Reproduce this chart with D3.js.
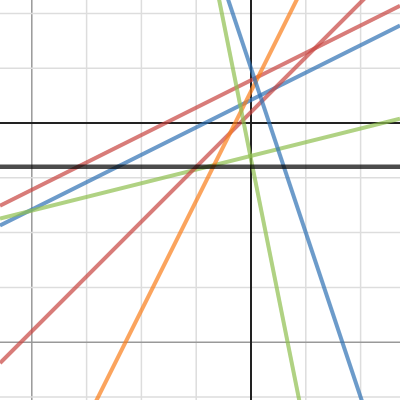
<!DOCTYPE html>
<meta charset="utf-8">
<style>
  body { margin: 0; background: #fff; }
  svg { display: block; }
</style>
<script src="https://d3js.org/d3.v7.min.js"></script>
<svg width="400" height="400"></svg>
<script>
// lines y = m*x + b
const names = ['red1', 'blue1', 'green1', 'red2', 'orange', 'blue2', 'green2'];
const slopes = [0.5, 0.5, 0.25, 1, 2, -3, -5];
const intercepts = [0.78, 0.42, -0.6, 0.2, 0.58, 1, -0.66];
const hLine = -0.8;

const xTicks = d3.range(-4, 3);
const yTicks = d3.range(-5, 3);

const colors = {
  red1: '#c74440', blue1: '#2d70b3', green1: '#8fbf4f',
  red2: '#c74440', orange: '#fa7e19', blue2: '#2d70b3', green2: '#8fbf4f'
};

const W = 400, H = 400;
const svg = d3.select('svg');

const x = d3.scaleLinear().domain([-251 / 54.8, 149 / 54.8]).range([0, W]);
const y = d3.scaleLinear().domain([123 / 54.8, -277 / 54.8]).range([0, H]);

const gridColor = v => v === 0 ? '#222' : (v % 4 === 0 ? '#999' : '#ddd');

const grid = svg.append('g');
grid.selectAll('.vx')
  .data(xTicks.filter(d => d !== 0))
  .enter().append('line')
  .attr('x1', d => x(d)).attr('x2', d => x(d))
  .attr('y1', 0).attr('y2', H)
  .attr('stroke', gridColor)
  .attr('stroke-width', 1.5);
grid.selectAll('.hy')
  .data(yTicks.filter(d => d !== 0))
  .enter().append('line')
  .attr('y1', d => y(d)).attr('y2', d => y(d))
  .attr('x1', 0).attr('x2', W)
  .attr('stroke', gridColor)
  .attr('stroke-width', 1.5);

// axes
svg.append('line')
  .attr('x1', x(0)).attr('x2', x(0)).attr('y1', 0).attr('y2', H)
  .attr('stroke', '#222').attr('stroke-width', 2);
svg.append('line')
  .attr('y1', y(0)).attr('y2', y(0)).attr('x1', 0).attr('x2', W)
  .attr('stroke', '#222').attr('stroke-width', 2);

const [x0, x1] = x.domain();
const lines = names.map((n, i) => ({ name: n, m: slopes[i], b: intercepts[i] }));

svg.append('g').selectAll('line')
  .data(lines)
  .enter().append('line')
  .attr('x1', x(x0)).attr('y1', d => y(d.m * x0 + d.b))
  .attr('x2', x(x1)).attr('y2', d => y(d.m * x1 + d.b))
  .attr('stroke', d => colors[d.name])
  .attr('stroke-opacity', 0.7)
  .attr('stroke-width', 4);

svg.append('line')
  .attr('x1', 0).attr('x2', W)
  .attr('y1', y(hLine)).attr('y2', y(hLine))
  .attr('stroke', '#000')
  .attr('stroke-opacity', 0.7)
  .attr('stroke-width', 4.5);
</script>
